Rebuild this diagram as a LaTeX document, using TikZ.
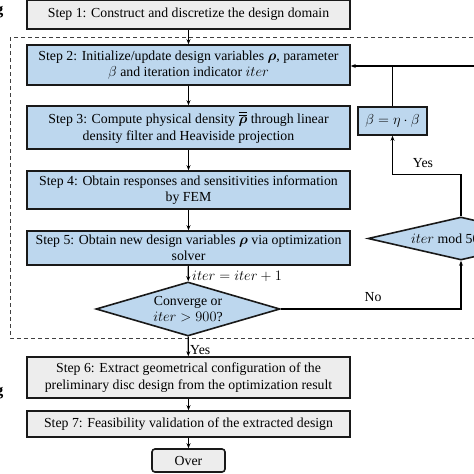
\documentclass[tikz,border=0pt]{standalone}
\usepackage{fontspec}
\setmainfont{Liberation Serif}
\usepackage{amsmath,bm}
\usetikzlibrary{shapes.geometric,arrows.meta}
\definecolor{boxblue}{RGB}{189,215,238}
\definecolor{boxgray}{RGB}{237,237,237}
\begin{document}
\begin{tikzpicture}[x=1pt,y=-1pt,
  font=\fontsize{13.8}{16.5}\selectfont,
  base/.style={draw=black!90,line width=1.6pt,align=center,inner sep=1pt},
  graybox/.style={base,rectangle,fill=boxgray,minimum width=323pt},
  bluebox/.style={base,rectangle,fill=boxblue,minimum width=323pt},
  decide/.style={base,diamond,fill=boxblue,inner sep=0pt},
  conn/.style={line width=1.2pt,-{Stealth[length=5pt,width=4pt]}},
  plain/.style={line width=1.2pt},
  lbl/.style={inner sep=1pt}]
\useasboundingbox (0,0) rectangle (474,474);
\clip (0,0) rectangle (474,474);
% fragments at left edge
\node[anchor=east,font=\fontsize{16}{16}\selectfont\bfseries] (fragA) at (7,12) {g};
\node[anchor=east,font=\fontsize{16}{16}\selectfont\bfseries] (fragB) at (7,393) {g};
% dashed loop region
\draw[dashed,dash pattern=on 4pt off 3pt,line width=0.9pt,black!75] (10,37) rectangle (490,338);
% main column
\node[graybox,minimum height=29pt] (s1) at (188.5,14.5) {Step 1: Construct and discretize the design domain};
\node[bluebox,minimum height=40pt] (s2) at (188.5,65) {Step 2: Initialize/update design variables $\boldsymbol{\rho}$, parameter\\$\beta$ and iteration indicator $iter$};
\node[bluebox,minimum height=43pt] (s3) at (188.5,127.5) {Step 3: Compute physical density $\overline{\overline{\boldsymbol{\rho}}}$ through linear\\density filter and Heaviside projection};
\node[bluebox,minimum height=38pt] (s4) at (188.5,190) {Step 4: Obtain responses and sensitivities information\\by FEM};
\node[bluebox,minimum height=34pt] (s5) at (188.5,248) {Step 5: Obtain new design variables $\boldsymbol{\rho}$ via optimization\\solver};
\node[decide,shape aspect=3.4,minimum width=184pt,minimum height=54pt] (conv) at (188,309) {Converge or\\$iter>900$?};
\node[graybox,minimum height=41pt] (s6) at (188.5,377.5) {Step 6: Extract geometrical configuration of the\\preliminary disc design from the optimization result};
\node[graybox,minimum height=26pt] (s7) at (188.5,424) {Step 7: Feasibility validation of the extracted design};
\node[base,rectangle,rounded corners=3pt,fill=boxgray,minimum width=73pt,minimum height=23pt] (over) at (188.5,460.5) {Over};
% right column
\node[base,rectangle,fill=boxblue,minimum width=69pt,minimum height=28pt] (beta) at (392.5,121) {$\beta=\eta\cdot\beta$};
\node[decide,shape aspect=4.3,minimum width=186pt,minimum height=43pt] (mod) at (461,238.5) {$iter$ mod 50 $=0$?};
\coordinate (far) at (490,66);
\coordinate (jn) at (beta.north |- far);
% connectors
\draw[conn] (s1) -- (s2);
\draw[conn] (s2) -- (s3);
\draw[conn] (s3) -- (s4);
\draw[conn] (s4) -- (s5);
\draw[conn] (s5) -- (conv);
\node[lbl,anchor=west] (inc) at (191,276) {$iter=iter+1$};
\draw[conn] (conv) -- (s6);
\node[lbl,anchor=west] (yes1) at (189,350) {Yes};
\draw[conn] (s6) -- (s7);
\draw[conn] (s7) -- (over);
\draw[conn] (conv.east) -- (conv.east -| mod.south) -- (mod.south);
\node[lbl] (no) at (373,297) {No};
\draw[conn] (mod.north) -- ++(0,-42) -| (beta.south);
\node[lbl] (yes2) at (423,163) {Yes};
\draw[plain] (beta.north) -- (jn);
\draw[conn] (far) -- (s2.east |- far);
\end{tikzpicture}
\end{document}
